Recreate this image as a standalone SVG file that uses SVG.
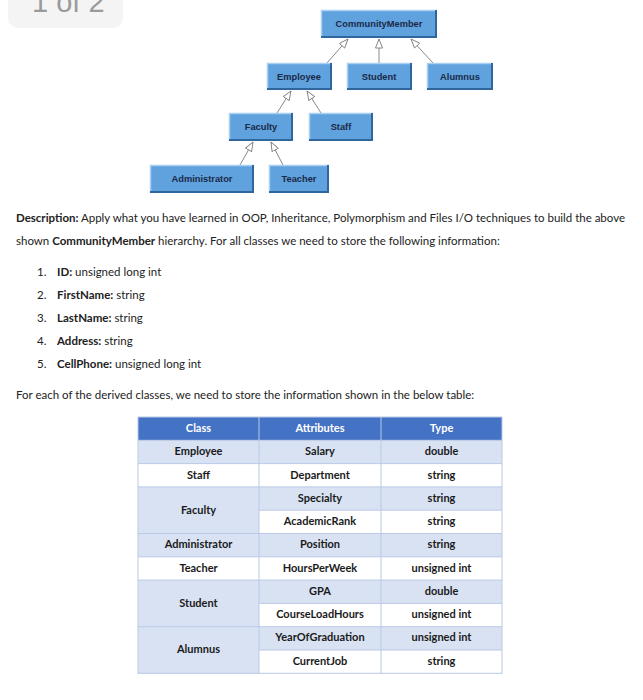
<svg xmlns="http://www.w3.org/2000/svg" width="643" height="700" viewBox="0 0 643 700">
<defs>
<style>
.node rect.b{fill:#5fa2de;stroke:none}
.node path.hl{fill:none;stroke:#a9d0f2;stroke-width:1.5}
.node path.sh{fill:none;stroke:#2f679c;stroke-width:2}
.node text{font-family:"Liberation Sans",Arial,sans-serif;font-weight:bold;font-size:9.3px;fill:#1b2947;text-anchor:middle}
.conn line{stroke:#8a8a8a;stroke-width:1;marker-end:url(#tri)}
.body{font-family:Lato,"Open Sans",sans-serif;font-size:11.5px;fill:#222}
.b{font-weight:bold}
.th{font-family:Lato,"Open Sans",sans-serif;font-size:11px;font-weight:bold;fill:#fff;text-anchor:middle}
.td{font-family:Lato,"Open Sans",sans-serif;font-size:11px;font-weight:bold;fill:#1a1a1a;text-anchor:middle}
.grid line{stroke:#b9c9e6;stroke-width:1}
</style>
<marker id="tri" viewBox="0 0 10 8" refX="9.5" refY="4" markerWidth="10" markerHeight="8" markerUnits="userSpaceOnUse" orient="auto">
<path d="M0.5,0.5 L9.5,4 L0.5,7.5 Z" fill="#fff" stroke="#7d7d7d" stroke-width="0.9"/>
</marker>
</defs>
<rect width="643" height="700" fill="#fff"/>
<!-- page counter -->
<rect x="8" y="-20" width="115" height="48" rx="10" fill="#f4f4f4"/>
<text x="32" y="12" font-family="'Liberation Sans',Arial,sans-serif" font-size="29" fill="#9a9a9a">1 of 2</text>

<!-- connectors -->
<g id="connectors" class="conn">
<line x1="327" y1="63" x2="348" y2="39"/>
<line x1="379" y1="63" x2="379" y2="39"/>
<line x1="433" y1="63" x2="411" y2="39"/>
<line x1="277" y1="113" x2="291" y2="91"/>
<line x1="321" y1="113" x2="307" y2="91"/>
<line x1="240" y1="165" x2="253" y2="142"/>
<line x1="283" y1="165" x2="271" y2="142"/>
</g>

<!-- nodes -->
<g id="CommunityMember" class="node"><rect class="b" x="321" y="10" width="116" height="28"/><path class="hl" d="M321.5,38 V10.5 H437"/><path class="sh" d="M321,37 H436 V10"/><text x="379" y="27">CommunityMember</text></g>
<g id="Employee" class="node"><rect class="b" x="267" y="63" width="65" height="27"/><path class="hl" d="M267.5,90 V63.5 H332"/><path class="sh" d="M267,89 H331 V63"/><text x="299" y="79.5">Employee</text></g>
<g id="Student" class="node"><rect class="b" x="347" y="63" width="65" height="27"/><path class="hl" d="M347.5,90 V63.5 H412"/><path class="sh" d="M347,89 H411 V63"/><text x="379" y="79.5">Student</text></g>
<g id="Alumnus" class="node"><rect class="b" x="427" y="63" width="66" height="27"/><path class="hl" d="M427.5,90 V63.5 H493"/><path class="sh" d="M427,89 H492 V63"/><text x="460" y="79.5">Alumnus</text></g>
<g id="Faculty" class="node"><rect class="b" x="229" y="113" width="64" height="28"/><path class="hl" d="M229.5,141 V113.5 H293"/><path class="sh" d="M229,140 H292 V113"/><text x="261" y="130">Faculty</text></g>
<g id="Staff" class="node"><rect class="b" x="309" y="113" width="64" height="28"/><path class="hl" d="M309.5,141 V113.5 H373"/><path class="sh" d="M309,140 H372 V113"/><text x="341" y="130">Staff</text></g>
<g id="Administrator" class="node"><rect class="b" x="150" y="165" width="104" height="28"/><path class="hl" d="M150.5,193 V165.5 H254"/><path class="sh" d="M150,192 H253 V165"/><text x="202" y="182">Administrator</text></g>
<g id="Teacher" class="node"><rect class="b" x="269" y="165" width="60" height="28"/><path class="hl" d="M269.5,193 V165.5 H329"/><path class="sh" d="M269,192 H328 V165"/><text x="299" y="182">Teacher</text></g>

<!-- description text -->
<text class="body" x="16" y="222" textLength="609" lengthAdjust="spacing"><tspan class="b">Description:</tspan> Apply what you have learned in OOP, Inheritance, Polymorphism and Files I/O techniques to build the above</text>
<text class="body" x="16" y="245">shown <tspan class="b">CommunityMember</tspan> hierarchy. For all classes we need to store the following information:</text>
<text class="body" x="37" y="276">1.</text><text class="body" x="57" y="276"><tspan class="b">ID:</tspan> unsigned long int</text>
<text class="body" x="37" y="299">2.</text><text class="body" x="57" y="299"><tspan class="b">FirstName:</tspan> string</text>
<text class="body" x="37" y="322">3.</text><text class="body" x="57" y="322"><tspan class="b">LastName:</tspan> string</text>
<text class="body" x="37" y="345">4.</text><text class="body" x="57" y="345"><tspan class="b">Address:</tspan> string</text>
<text class="body" x="37" y="368">5.</text><text class="body" x="57" y="368"><tspan class="b">CellPhone:</tspan> unsigned long int</text>
<text class="body" x="16" y="399">For each of the derived classes, we need to store the information shown in the below table:</text>

<!-- table -->
<g id="table">
<rect x="138" y="417" width="364" height="23.3" fill="#4472c4"/>
<rect x="138" y="440.3" width="364" height="23.3" fill="#d9e2f3"/>
<rect x="138" y="463.6" width="364" height="23.3" fill="#fff"/>
<rect x="138" y="486.9" width="121" height="46.6" fill="#d9e2f3"/>
<rect x="259" y="486.9" width="243" height="23.3" fill="#d9e2f3"/>
<rect x="259" y="510.2" width="243" height="23.3" fill="#fff"/>
<rect x="138" y="533.5" width="364" height="23.3" fill="#d9e2f3"/>
<rect x="138" y="556.8" width="364" height="23.3" fill="#fff"/>
<rect x="138" y="580.1" width="121" height="46.6" fill="#d9e2f3"/>
<rect x="259" y="580.1" width="243" height="23.3" fill="#d9e2f3"/>
<rect x="259" y="603.4" width="243" height="23.3" fill="#fff"/>
<rect x="138" y="626.7" width="121" height="46.6" fill="#d9e2f3"/>
<rect x="259" y="626.7" width="243" height="23.3" fill="#d9e2f3"/>
<rect x="259" y="650" width="243" height="23.3" fill="#fff"/>
<g class="grid">
<line x1="138" y1="440.3" x2="502" y2="440.3"/>
<line x1="138" y1="463.6" x2="502" y2="463.6"/>
<line x1="138" y1="486.9" x2="502" y2="486.9"/>
<line x1="259" y1="510.2" x2="502" y2="510.2"/>
<line x1="138" y1="533.5" x2="502" y2="533.5"/>
<line x1="138" y1="556.8" x2="502" y2="556.8"/>
<line x1="138" y1="580.1" x2="502" y2="580.1"/>
<line x1="259" y1="603.4" x2="502" y2="603.4"/>
<line x1="138" y1="626.7" x2="502" y2="626.7"/>
<line x1="259" y1="650" x2="502" y2="650"/>
<line x1="259" y1="417" x2="259" y2="673.3"/>
<line x1="381" y1="417" x2="381" y2="673.3"/>
<rect x="138" y="417" width="364" height="256.3" fill="none" stroke="#b9c9e6"/>
</g>
<text class="th" x="198.5" y="432">Class</text>
<text class="th" x="320" y="432">Attributes</text>
<text class="th" x="441.5" y="432">Type</text>
<text class="td" x="198.5" y="455.3">Employee</text><text class="td" x="320" y="455.3">Salary</text><text class="td" x="441.5" y="455.3">double</text>
<text class="td" x="198.5" y="478.6">Staff</text><text class="td" x="320" y="478.6">Department</text><text class="td" x="441.5" y="478.6">string</text>
<text class="td" x="198.5" y="513.5">Faculty</text><text class="td" x="320" y="501.5">Specialty</text><text class="td" x="441.5" y="501.5">string</text>
<text class="td" x="320" y="525">AcademicRank</text><text class="td" x="441.5" y="525">string</text>
<text class="td" x="198.5" y="548.3">Administrator</text><text class="td" x="320" y="548.3">Position</text><text class="td" x="441.5" y="548.3">string</text>
<text class="td" x="198.5" y="571.6">Teacher</text><text class="td" x="320" y="571.6">HoursPerWeek</text><text class="td" x="441.5" y="571.6">unsigned int</text>
<text class="td" x="198.5" y="606.5">Student</text><text class="td" x="320" y="594.5">GPA</text><text class="td" x="441.5" y="594.5">double</text>
<text class="td" x="320" y="618">CourseLoadHours</text><text class="td" x="441.5" y="618">unsigned int</text>
<text class="td" x="198.5" y="653">Alumnus</text><text class="td" x="320" y="641">YearOfGraduation</text><text class="td" x="441.5" y="641">unsigned int</text>
<text class="td" x="320" y="664.5">CurrentJob</text><text class="td" x="441.5" y="664.5">string</text>
</g>
</svg>
